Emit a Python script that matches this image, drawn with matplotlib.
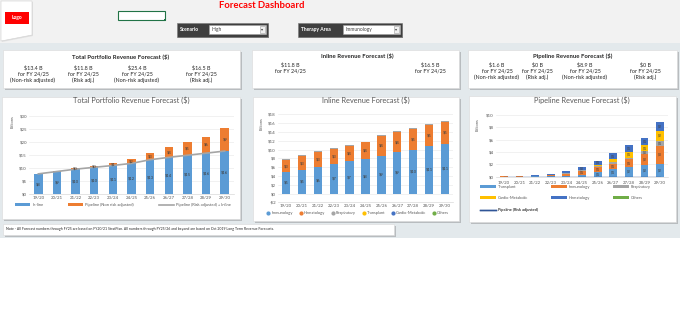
import matplotlib
matplotlib.use("Agg")
import matplotlib.pyplot as plt
from matplotlib.patches import Rectangle, Polygon
from matplotlib.lines import Line2D
import numpy as np

plt.rcParams['font.family'] = ['Lato', 'DejaVu Sans']

# ---------------- data ----------------
years = ["19/20", "20/21", "21/22", "22/23", "23/24", "24/25",
         "25/26", "26/27", "27/28", "28/29", "29/30"]

# Inline revenue by therapy area ($B)
inline_immunology = [4.9, 5.3, 6.1, 6.7, 7.3, 7.8, 8.6, 9.4, 9.9, 10.7, 11.3]
inline_hematology = [2.7, 3.2, 3.3, 3.4, 3.5, 3.8, 4.4, 4.5, 4.8, 4.8, 5.0]
inline_respiratory = [0.2, 0.2, 0.2, 0.2, 0.2, 0.2, 0.2, 0.2, 0.2, 0.2, 0.2]
inline_transplant = [0, 0, 0, 0, 0, 0, 0, 0, 0, 0, 0]
inline_cardio = [0, 0, 0, 0, 0, 0, 0, 0, 0, 0, 0]
inline_others = [0, 0, 0, 0, 0, 0, 0, 0, 0, 0, 0]

# Pipeline revenue by therapy area ($B, non-risk adjusted)
pipe_transplant = [0.02, 0.02, 0.05, 0.10, 0.15, 0.30, 0.70, 1.20, 1.60, 1.90, 2.10]
pipe_immunology = [0.03, 0.03, 0.10, 0.20, 0.35, 0.65, 0.90, 0.90, 1.20, 1.70, 2.90]
pipe_respiratory = [0.00, 0.00, 0.00, 0.02, 0.05, 0.10, 0.20, 0.30, 0.30, 0.50, 0.80]
pipe_cardio = [0.00, 0.00, 0.00, 0.00, 0.05, 0.05, 0.10, 0.40, 0.90, 1.10, 1.60]
pipe_hematology = [0.05, 0.05, 0.15, 0.18, 0.30, 0.50, 0.70, 1.00, 1.10, 1.10, 1.50]
pipe_others = [0, 0, 0, 0, 0, 0, 0, 0, 0, 0, 0]
pipe_risk_adjusted = [0, 0, 0, 0, 0, 0, 0, 0, 0, 0, 0]

kpi_total = [("$13.4 B", "for FY 24/25", "(Non-risk adjusted)"),
             ("$11.8 B", "for FY 24/25", "(Risk adj.)"),
             ("$25.4 B", "for FY 24/25", "(Non-risk adjusted)"),
             ("$16.5 B", "for FY 24/25", "(Risk adj.)")]
kpi_inline = [("$11.8 B", "for FY 24/25"), ("$16.5 B", "for FY 24/25")]
kpi_pipe = [("$1.6 B", "for FY 24/25", "(Non-risk adjusted)"),
            ("$0 B", "for FY 24/25", "(Risk adj.)"),
            ("$8.9 B", "for FY 24/25", "(Non-risk adjusted)"),
            ("$0 B", "for FY 24/25", "(Risk adj.)")]

BLUE, ORANGE, GRAY, YELLOW, DBLUE, GREEN = "#5B9BD5", "#ED7D31", "#A5A5A5", "#FFC000", "#4472C4", "#70AD47"
TXT = "#595959"

W, H = 680, 325
fig = plt.figure(figsize=(6.8, 3.25), dpi=100)
fig.patch.set_facecolor("white")

bg = fig.add_axes([0, 0, 1, 1])
bg.set_xlim(0, W)
bg.set_ylim(H, 0)
bg.axis("off")

# backgrounds
bg.add_patch(Rectangle((0, 0), W, 43, facecolor="#f2f2f2", edgecolor="none"))
bg.add_patch(Rectangle((0, 43), W, 195, facecolor="#e3e9ec", edgecolor="none"))


def card(x0, y0, x1, y1):
    bg.add_patch(Rectangle((x0 + 1.5, y0 + 1.5), x1 - x0, y1 - y0, facecolor="#b8bcbf", edgecolor="none"))
    bg.add_patch(Rectangle((x0, y0), x1 - x0, y1 - y0, facecolor="white", edgecolor="#d9d9d9", lw=0.4))


# logo
bg.add_patch(Polygon([(2, 2), (33, 2), (33, 36), (2, 42)], closed=True, facecolor="#e0e0e0", edgecolor="none"))
bg.add_patch(Polygon([(1, 1), (32, 1), (32, 35), (1, 41)], closed=True, facecolor="white", edgecolor="#d0d0d0", lw=0.4))
bg.add_patch(Rectangle((5, 11.5), 24, 12.5, facecolor="#FF0000", edgecolor="none"))
bg.text(17, 17.8, "Logo", color="white", fontsize=3.6, fontweight="bold", ha="center", va="center")

# selected cell
bg.add_patch(Rectangle((118, 11), 47, 9, facecolor="white", edgecolor="#217346", lw=0.8))
bg.add_patch(Rectangle((163.5, 18.8), 2.5, 2.5, facecolor="#217346", edgecolor="none"))

bg.text(262, 6, "Forecast Dashboard", color="#FF0000", fontsize=6.8, fontweight="bold", ha="center", va="center")


def dropdown(x0, x1, xi, label, value):
    bg.add_patch(Rectangle((x0 + 1, 23.5), x1 - x0, 14, facecolor="#9a9a9a", edgecolor="none"))
    bg.add_patch(Rectangle((x0, 22.5), x1 - x0, 14, facecolor="#3f3f3f", edgecolor="#7f7f7f", lw=0.5))
    bg.text(x0 + 3, 29.5, label, color="white", fontsize=3.6, fontweight="bold", va="center")
    bg.add_patch(Rectangle((xi, 24.5), x1 - 2 - xi, 9.5, facecolor="white", edgecolor="#a0a0a0", lw=0.4))
    bg.text(xi + 3, 29.3, value, color="#404040", fontsize=3.5, va="center")
    bg.add_patch(Rectangle((x1 - 8.5, 25.5), 5.5, 7.5, facecolor="#f0f0f0", edgecolor="#9a9a9a", lw=0.4))
    bg.text(x1 - 5.75, 29.3, "▾", fontsize=3, color="#404040", ha="center", va="center", family="DejaVu Sans")


dropdown(177, 268, 209, "Scenario", "High")
dropdown(298, 402, 343, "Therapy Area", "Immunology")

# KPI cards
card(3, 50, 240, 88)
bg.text(121, 57.5, "Total Portfolio Revenue Forecast ($)", fontsize=4.3, fontweight="bold", color="#262626", ha="center", va="center")
for xc, lines in zip([33, 83, 137, 201], kpi_total):
    for k, s in enumerate(lines):
        bg.text(xc, 67.5 + 6.3 * k, s, fontsize=3.9, color="#262626", ha="center", va="center")

card(252, 50, 459, 88)
bg.text(357, 56.5, "Inline Revenue Forecast ($)", fontsize=4.3, fontweight="bold", color="#262626", ha="center", va="center")
for xc, lines in zip([290, 430], kpi_inline):
    for k, s in enumerate(lines):
        bg.text(xc, 64.5 + 6.3 * k, s, fontsize=3.9, color="#262626", ha="center", va="center")

card(468, 50, 677, 88)
bg.text(573, 56.5, "Pipeline Revenue Forecast ($)", fontsize=4.3, fontweight="bold", color="#262626", ha="center", va="center")
for xc, lines in zip([497, 537, 585, 645], kpi_pipe):
    for k, s in enumerate(lines):
        bg.text(xc, 65 + 6.3 * k, s, fontsize=3.9, color="#262626", ha="center", va="center")

# chart panels
card(2, 97, 240, 219)
card(253, 97, 459, 221)
card(469, 96, 676, 222)

# note
card(3, 224, 394, 235)
bg.text(6, 229.3, "Note - All Forecast numbers through FY25 are based on FY20/21 StratPlan. All numbers through FY25/26 and beyond are based on Oct 2019 Long Term Revenue Forecasts.",
        fontsize=2.55, color="#262626", va="center")


def add_ax(l, t, r, b):
    return fig.add_axes([l / W, 1 - b / H, (r - l) / W, (b - t) / H])


def style(ax, ylim, yticks, fmt):
    ax.set_facecolor("white")
    ax.set_xlim(-0.5, len(years) - 0.5)
    ax.set_ylim(*ylim)
    ax.set_yticks(yticks)
    ax.set_yticklabels([fmt(v) for v in yticks])
    ax.set_xticks(range(len(years)))
    ax.set_xticklabels(years)
    ax.tick_params(axis="both", labelsize=3.2, colors=TXT, length=0, pad=1.5)
    for s in ["top", "right", "left"]:
        ax.spines[s].set_visible(False)
    ax.spines["bottom"].set_color("#d9d9d9")
    ax.spines["bottom"].set_linewidth(0.5)
    ax.grid(axis="y", color="#e6e6e6", lw=0.4)
    ax.set_axisbelow(True)


def money(v):
    return f"-${abs(v):.0f}" if v < 0 else f"${v:.0f}"


x = np.arange(len(years))

# ---------- chart 1: total portfolio ----------
inline_total = np.array(inline_immunology) + np.array(inline_hematology) + np.array(inline_respiratory) \
    + np.array(inline_transplant) + np.array(inline_cardio) + np.array(inline_others)
pipe_total = np.array(pipe_transplant) + np.array(pipe_immunology) + np.array(pipe_respiratory) \
    + np.array(pipe_cardio) + np.array(pipe_hematology) + np.array(pipe_others)
risk_line = inline_total + np.array(pipe_risk_adjusted)

ax1 = add_ax(29, 115.7, 234, 194.3)
style(ax1, (0, 30), [0, 5, 10, 15, 20, 25, 30], money)
b1 = ax1.bar(x, inline_total, 0.45, color=BLUE, label="In-line")
b2 = ax1.bar(x, pipe_total, 0.45, bottom=inline_total, color=ORANGE, label="Pipeline (Non risk adjusted)")
l1, = ax1.plot(x, risk_line, color=GRAY, lw=1.2, label="Pipeline (Risk adjusted) + Inline")
for i in range(len(years)):
    ax1.text(x[i], inline_total[i] / 2, money(inline_total[i]), fontsize=3, color="#404040", ha="center", va="center")
    if pipe_total[i] >= 0.2:
        ax1.text(x[i], inline_total[i] + pipe_total[i] / 2, money(pipe_total[i]), fontsize=3, color="#404040", ha="center", va="center")
ax1.set_title("Total Portfolio Revenue Forecast ($)", fontsize=5.3, color=TXT, pad=9)
bg.text(13, 122, "Billions", rotation=90, fontsize=3, color=TXT, ha="center", va="center")
ax1.legend([b1, b2, l1], ["In-line", "Pipeline (Non risk adjusted)", "Pipeline (Risk adjusted) + Inline"],
           loc="center", bbox_to_anchor=(123 / W, 1 - 205 / H), bbox_transform=fig.transFigure,
           ncol=3, fontsize=3, frameon=False, handlelength=3.5, handleheight=0.5, columnspacing=6,
           handletextpad=0.6, labelcolor=TXT)

# ---------- chart 2: inline ----------
ax2 = add_ax(278, 114.3, 453, 202.3)
style(ax2, (-2, 18), list(range(-2, 19, 2)), money)
inline_series = [("Immunology", inline_immunology, BLUE), ("Hematology", inline_hematology, ORANGE),
                 ("Respiratory", inline_respiratory, GRAY), ("Transplant", inline_transplant, YELLOW),
                 ("Cardio-Metabolic", inline_cardio, DBLUE), ("Others", inline_others, GREEN)]
bottom = np.zeros(len(years))
for name, vals, col in inline_series:
    vals = np.array(vals, dtype=float)
    ax2.bar(x, vals, 0.52, bottom=bottom, color=col, label=name)
    for i in range(len(years)):
        if vals[i] >= 1:
            ax2.text(x[i], bottom[i] + vals[i] / 2, money(vals[i]), fontsize=3, color="#404040", ha="center", va="center")
    bottom += vals
ax2.set_title("Inline Revenue Forecast ($)", fontsize=5.3, color=TXT, pad=8)
bg.text(262, 124, "Billions", rotation=90, fontsize=3, color=TXT, ha="center", va="center")
handles2 = [Line2D([], [], ls="none", marker="o", markersize=2, color=c) for _, _, c in inline_series]
ax2.legend(handles2, [n for n, _, _ in inline_series], loc="center",
           bbox_to_anchor=(358 / W, 1 - 213 / H), bbox_transform=fig.transFigure,
           ncol=6, fontsize=2.9, frameon=False, handlelength=0.8, columnspacing=1.6,
           handletextpad=0.3, labelcolor=TXT)

# ---------- chart 3: pipeline ----------
ax3 = add_ax(496, 115, 668, 176.7)
style(ax3, (0, 10), [0, 2, 4, 6, 8, 10], money)
pipe_series = [("Transplant", pipe_transplant, BLUE), ("Immunology", pipe_immunology, ORANGE),
               ("Respiratory", pipe_respiratory, GRAY), ("Cardio-Metabolic", pipe_cardio, YELLOW),
               ("Hematology", pipe_hematology, DBLUE), ("Others", pipe_others, GREEN)]
bottom = np.zeros(len(years))
bars3 = []
for name, vals, col in pipe_series:
    vals = np.array(vals, dtype=float)
    b = ax3.bar(x, vals, 0.5, bottom=bottom, color=col, label=name)
    bars3.append(b)
    for i in range(len(years)):
        if vals[i] >= 0.5:
            ax3.text(x[i], bottom[i] + vals[i] / 2, money(vals[i]), fontsize=2.4, color="#404040", ha="center", va="center")
    bottom += vals
ln3, = ax3.plot(x, pipe_risk_adjusted, color="#2F5597", lw=1.0, label="Pipeline (Risk adjusted)")
ax3.tick_params(axis="x", pad=3)
ax3.set_title("Pipeline Revenue Forecast ($)", fontsize=5.3, color=TXT, pad=9)
bg.text(478, 125, "Billions", rotation=90, fontsize=3, color=TXT, ha="center", va="center")
h3 = bars3 + [ln3]
l3 = [n for n, _, _ in pipe_series] + ["Pipeline (Risk adjusted)"]
leg_pos = [(480, 187), (551, 187), (613, 187), (480, 198), (551, 198), (613, 198), (480, 210)]
for hnd, lab, (px, py) in zip(h3, l3, leg_pos):
    lg = ax3.legend([hnd], [lab], loc="center left", bbox_to_anchor=(px / W, 1 - py / H),
                    bbox_transform=fig.transFigure, fontsize=2.9, frameon=False,
                    handlelength=4, handleheight=0.5, handletextpad=0.4, labelcolor=TXT,
                    borderpad=0, borderaxespad=0)
    ax3.add_artist(lg)

fig.savefig("out.png", dpi=100, facecolor="white")
